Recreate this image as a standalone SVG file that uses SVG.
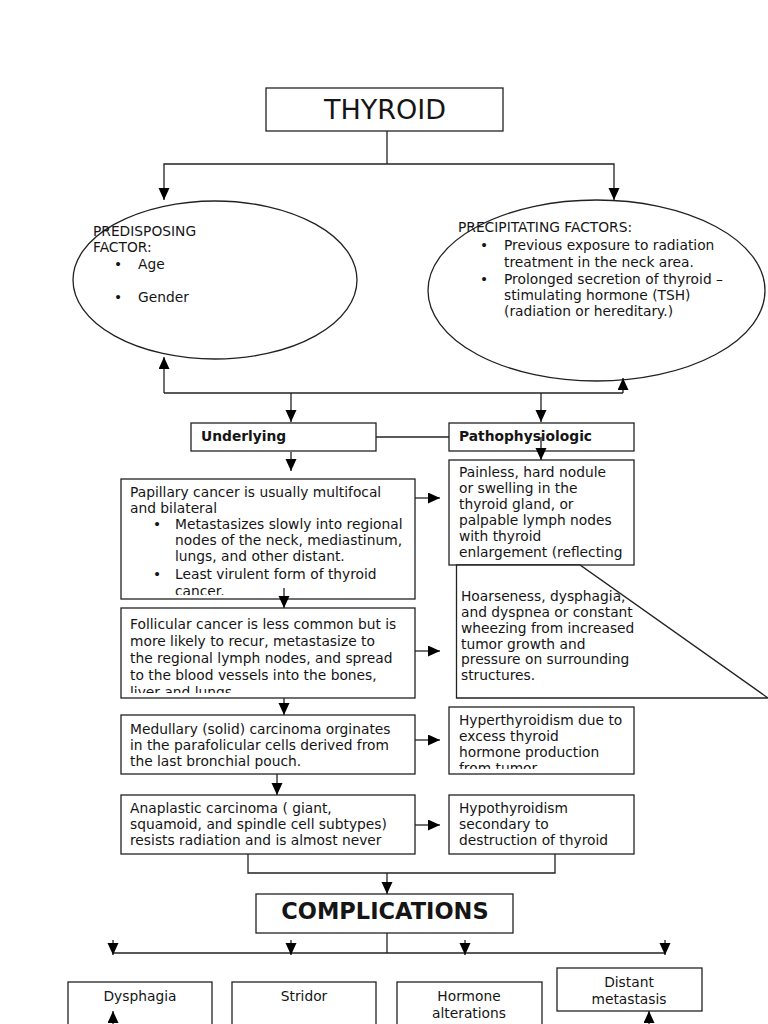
<svg xmlns="http://www.w3.org/2000/svg" width="768" height="1024" viewBox="0 0 768 1024">
<style>
.box{fill:#fff;stroke:#222;stroke-width:1.3}
.t{font-family:"DejaVu Sans",sans-serif;font-size:13.8px;fill:#151515}
.b{font-weight:bold}
.c{text-anchor:middle}
.ln{fill:none;stroke:#222;stroke-width:1.3}
.ar{fill:none;stroke:#222;stroke-width:1.3;marker-end:url(#ah)}
</style>
<defs>
<marker id="ah" markerUnits="userSpaceOnUse" markerWidth="12" markerHeight="12" refX="12" refY="5.5" orient="auto">
<path d="M0,0 L12,5.5 L0,11 z" fill="#000"/>
</marker>
<clipPath id="cPap"><rect x="121" y="479" width="294" height="116"/></clipPath>
<clipPath id="cFol"><rect x="121" y="608" width="294" height="85"/></clipPath>
<clipPath id="cPain"><rect x="448" y="460" width="186" height="102"/></clipPath>
<clipPath id="cHyper"><rect x="448" y="707" width="186" height="62"/></clipPath>
</defs>
<rect width="768" height="1024" fill="#fff"/>

<g id="thyroid">
<rect class="box" x="266" y="88" width="237" height="43"/>
<text class="t c" x="385" y="119" style="font-size:27px">THYROID</text>
</g>

<g id="predisposing">
<ellipse class="box" cx="215" cy="280" rx="142" ry="79"/>
<text class="t" x="93" y="236">PREDISPOSING</text>
<text class="t" x="93" y="252">FACTOR:</text>
<text class="t" x="114" y="269">•</text>
<text class="t" x="138" y="269">Age</text>
<text class="t" x="114" y="302">•</text>
<text class="t" x="138" y="302">Gender</text>
</g>

<g id="precipitating">
<ellipse class="box" cx="596.5" cy="290.5" rx="168.5" ry="90.5"/>
<text class="t" x="458" y="232">PRECIPITATING FACTORS:</text>
<text class="t" x="480" y="250">•</text>
<text class="t" x="504" y="250">Previous exposure to radiation</text>
<text class="t" x="504" y="267">treatment in the neck area.</text>
<text class="t" x="480" y="284">•</text>
<text class="t" x="504" y="284">Prolonged secretion of thyroid –</text>
<text class="t" x="504" y="300">stimulating hormone (TSH)</text>
<text class="t" x="504" y="316">(radiation or hereditary.)</text>
</g>

<g id="underlying">
<rect class="box" x="191" y="423" width="185" height="28"/>
<text class="t b" x="201" y="441">Underlying</text>
</g>

<g id="pathophysiologic">
<rect class="box" x="449" y="423" width="185" height="28"/>
<text class="t b" x="459" y="441">Pathophysiologic</text>
</g>

<g id="papillary">
<rect class="box" x="121" y="479" width="294" height="120"/>
<g clip-path="url(#cPap)">
<text class="t" x="130" y="497">Papillary cancer is usually multifocal</text>
<text class="t" x="130" y="513">and bilateral</text>
<text class="t" x="153" y="529">•</text>
<text class="t" x="175" y="529">Metastasizes slowly into regional</text>
<text class="t" x="175" y="545">nodes of the neck, mediastinum,</text>
<text class="t" x="175" y="561">lungs, and other distant.</text>
<text class="t" x="153" y="579">•</text>
<text class="t" x="175" y="579">Least virulent form of thyroid</text>
<text class="t" x="175" y="596">cancer.</text>
</g>
</g>

<g id="painless">
<rect class="box" x="449" y="460" width="185" height="105"/>
<g clip-path="url(#cPain)">
<text class="t" x="459" y="477">Painless, hard nodule</text>
<text class="t" x="459" y="493">or swelling in the</text>
<text class="t" x="459" y="509">thyroid gland, or</text>
<text class="t" x="459" y="525">palpable lymph nodes</text>
<text class="t" x="459" y="541">with thyroid</text>
<text class="t" x="459" y="557">enlargement (reflecting</text>
</g>
</g>

<g id="hoarseness">
<polygon class="box" points="456.5,565 580,565 768,698 456.5,698"/>
<text class="t" x="461" y="601">Hoarseness, dysphagia,</text>
<text class="t" x="461" y="617">and dyspnea or constant</text>
<text class="t" x="461" y="633">wheezing from increased</text>
<text class="t" x="461" y="649">tumor growth and</text>
<text class="t" x="461" y="664">pressure on surrounding</text>
<text class="t" x="461" y="680">structures.</text>
</g>

<g id="follicular">
<rect class="box" x="121" y="608" width="294" height="90"/>
<g clip-path="url(#cFol)">
<text class="t" x="130" y="629">Follicular cancer is less common but is</text>
<text class="t" x="130" y="646">more likely  to recur, metastasize to</text>
<text class="t" x="130" y="663">the regional lymph nodes, and spread</text>
<text class="t" x="130" y="680">to the blood vessels into the bones,</text>
<text class="t" x="130" y="697">liver and lungs.</text>
</g>
</g>

<g id="medullary">
<rect class="box" x="121" y="715" width="294" height="59"/>
<text class="t" x="130" y="734">Medullary (solid) carcinoma orginates</text>
<text class="t" x="130" y="750">in the parafolicular cells derived from</text>
<text class="t" x="130" y="766">the last bronchial pouch.</text>
</g>

<g id="hyperthyroidism">
<rect class="box" x="449" y="707" width="185" height="67"/>
<g clip-path="url(#cHyper)">
<text class="t" x="459" y="725">Hyperthyroidism due to</text>
<text class="t" x="459" y="741">excess thyroid</text>
<text class="t" x="459" y="757">hormone production</text>
<text class="t" x="459" y="773">from tumor</text>
</g>
</g>

<g id="anaplastic">
<rect class="box" x="121" y="795" width="294" height="59"/>
<text class="t" x="130" y="813">Anaplastic carcinoma ( giant,</text>
<text class="t" x="130" y="829">squamoid, and spindle cell subtypes)</text>
<text class="t" x="130" y="845">resists radiation and is almost never</text>
</g>

<g id="hypothyroidism">
<rect class="box" x="449" y="795" width="185" height="59"/>
<text class="t" x="459" y="813">Hypothyroidism</text>
<text class="t" x="459" y="829">secondary to</text>
<text class="t" x="459" y="845">destruction of thyroid</text>
</g>

<g id="complications">
<rect class="box" x="256" y="894" width="257" height="39"/>
<text class="t b c" x="385" y="919" style="font-size:22.5px">COMPLICATIONS</text>
</g>

<g id="dysphagia">
<rect class="box" x="68" y="982" width="144" height="50"/>
<text class="t c" x="140" y="1001">Dysphagia</text>
</g>
<g id="stridor">
<rect class="box" x="232" y="982" width="144" height="50"/>
<text class="t c" x="304" y="1001">Stridor</text>
</g>
<g id="hormone">
<rect class="box" x="397" y="982" width="145" height="50"/>
<text class="t c" x="469" y="1001">Hormone</text>
<text class="t c" x="469" y="1018">alterations</text>
</g>
<g id="distant">
<rect class="box" x="557" y="968" width="145" height="43"/>
<text class="t c" x="629" y="987">Distant</text>
<text class="t c" x="629" y="1004">metastasis</text>
</g>

<g id="connectors">
<path class="ln" d="M387,131 V164"/>
<path class="ar" d="M387,164 H164 V200"/>
<path class="ar" d="M387,164 H614 V200"/>
<path class="ar" d="M164,393 V357"/>
<path class="ln" d="M164,393 H623"/>
<path class="ar" d="M623,393 V378"/>
<path class="ar" d="M291,393 V422"/>
<path class="ar" d="M541,393 V422"/>
<path class="ln" d="M376,437 H449"/>
<path class="ar" d="M541,437 V460"/>
<path class="ar" d="M291,452 V471"/>
<path class="ar" d="M415,498 H440"/>
<path class="ar" d="M284,588 V608"/>
<path class="ar" d="M415,651 H440"/>
<path class="ar" d="M284,698 V715"/>
<path class="ar" d="M415,740 H440"/>
<path class="ar" d="M277,774 V795"/>
<path class="ar" d="M415,825 H440"/>
<path class="ln" d="M248,854 V873 H555 V854"/>
<path class="ar" d="M387,873 V894"/>
<path class="ln" d="M387,933 V953"/>
<path class="ln" d="M114,953 H665"/>
<path class="ar" d="M113,940 V955"/>
<path class="ar" d="M291,940 V955"/>
<path class="ar" d="M465,940 V955"/>
<path class="ar" d="M665,940 V955"/>
<path class="ar" d="M113,1026 V1011"/>
<path class="ar" d="M649,1026 V1011"/>
</g>
</svg>
